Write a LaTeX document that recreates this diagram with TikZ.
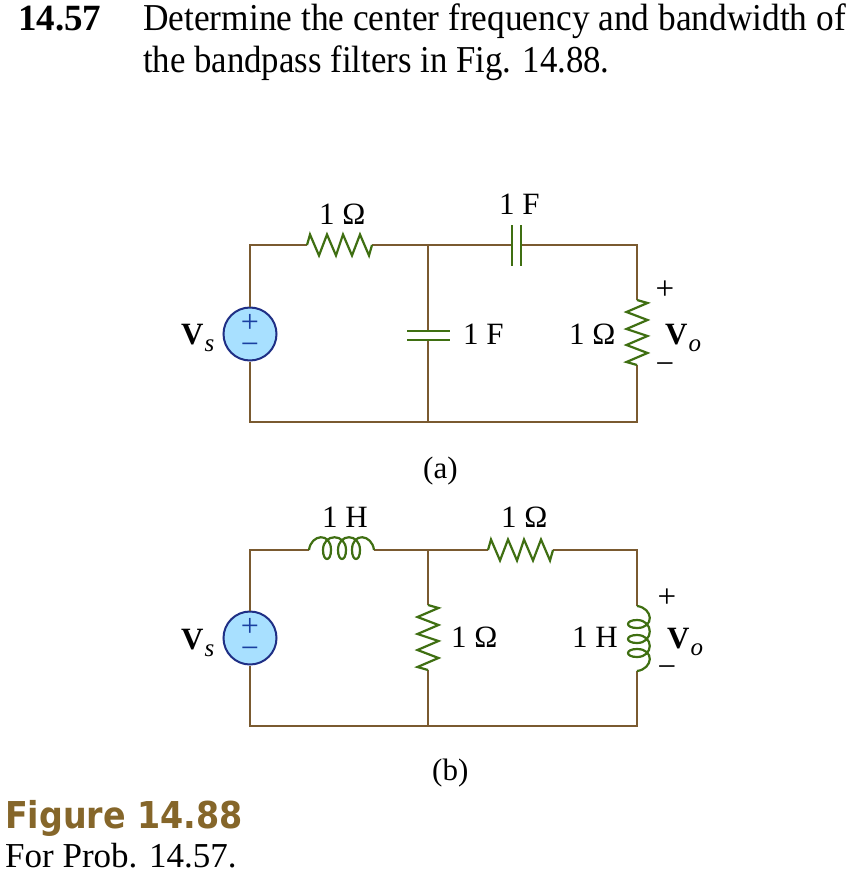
\documentclass[tikz,border=0pt]{standalone}
\usepackage{fontspec}
\setmainfont{Liberation Serif}
\newfontfamily\figfont[FakeStretch=0.9]{DejaVu Sans Bold}
\newfontfamily\bodyfont[FakeStretch=0.93]{Liberation Serif}
\newfontfamily\bodyfontb[FakeStretch=0.915]{Liberation Serif}
\definecolor{wirec}{HTML}{7A5A30}
\definecolor{partc}{HTML}{3F6F12}
\definecolor{srcfill}{HTML}{A8E0FF}
\definecolor{srcline}{HTML}{1F2F85}
\definecolor{signc}{HTML}{1A3FA0}
\definecolor{figc}{HTML}{85662A}
\newcommand{\VV}[1]{\textbf{V}\kern1pt\raisebox{-7pt}{\fontsize{25}{25}\selectfont\itshape #1}}
\tikzset{
  x=1pt,y=-1pt,
  wire/.style={draw=wirec,line width=2.2pt,line join=miter},
  part/.style={draw=partc,line width=2.2pt,line join=miter},
  plate/.style={draw=partc,line width=2.2pt},
  source/.style={circle,draw=srcline,fill=srcfill,line width=2pt,minimum size=53pt,inner sep=0pt,
    text=signc,align=center,font=\fontsize{32}{22}\selectfont},
  lab/.style={anchor=base west,inner sep=0pt,font=\fontsize{31}{31}\selectfont},
  body/.style={anchor=base west,inner sep=0pt,font=\fontsize{38}{38}\selectfont\bodyfont},
  sign/.style={inner sep=0pt,font=\fontsize{33}{33}\selectfont},
  vert/.style={rotate=-90},
  res/.pic={\draw[part] (0,0)--(3,-10.5)--(12,10.5)--(20,-10.5)--(29,10.5)--(36,-10.5)--(45,10.5)--(53,-10.5)--(62,10.5)--(65,0);},
  ind/.pic={\draw[part] (0,0) .. controls (2,-16) and (22,-18) .. (22,0) .. controls (22,12) and (14,12) .. (14,0)
     .. controls (14,-17) and (37,-17) .. (37,0) .. controls (37,12) and (29,12) .. (29,0)
     .. controls (29,-17) and (51,-17) .. (51,0) .. controls (51,12) and (43,12) .. (43,0)
     .. controls (43,-18) and (63,-16) .. (65,0);}
}
\begin{document}
\begin{tikzpicture}
\path[use as bounding box,fill=white] (0,0) rectangle (851,872);
% header
\node[body,font=\fontsize{37}{37}\selectfont\bfseries] (num) at (18,31) {14.57};
\node[body] (l1) at (143,31) {Determine the center frequency and bandwidth of};
\node[body,font=\fontsize{38}{38}\selectfont\bodyfontb] (l2) at (143,73) {the bandpass filters in Fig. 14.88.};
% circuit (a)
\coordinate (atl) at (249,245); \coordinate (atm) at (428,245); \coordinate (atr) at (637,245);
\coordinate (abl) at (249,422); \coordinate (abm) at (428,422); \coordinate (abr) at (637,422);
\coordinate (ar1a) at (307,245); \coordinate (ar1b) at (372,245);
\coordinate (ac1a) at (512,245); \coordinate (ac1b) at (521,245);
\coordinate (ac2a) at (428,331); \coordinate (ac2b) at (428,340);
\coordinate (ar2a) at (637,300); \coordinate (ar2b) at (637,365);
\node[source] (sa) at (250,334) {+\\−};
\draw[wire] (sa.north) -- (sa.north |- atl) -- (ar1a);
\draw[wire] (ar1b) -- (atm) -- (ac1a);
\draw[wire] (ac1b) -- (atr) -- (ar2a);
\draw[wire] (ar2b) -- (abr) -- (abm) -- (sa.south |- abl) -- (sa.south);
\draw[wire] (atm) -- (ac2a);
\draw[wire] (ac2b) -- (abm);
\pic at (ar1a) {res};
\pic[vert] at (ar2a) {res};
\draw[plate] (512,225) -- (512,266);
\draw[plate] (521,225) -- (521,266);
\draw[plate] (407,331) -- (450,331);
\draw[plate] (407,340) -- (450,340);
\node[lab] (a1) at (319,224) {1 Ω};
\node[lab] (a2) at (499,214) {1 F};
\node[lab] (a3) at (463,344) {1 F};
\node[lab] (a4) at (569,344) {1 Ω};
\node[lab] (avs) at (181,344) {\VV{s}};
\node[lab] (avo) at (665,344) {\VV{o}};
\node[sign] (ap) at (665,290) {+};
\node[sign] (am) at (665,369) {−};
\node[lab] (acap) at (423,478) {(a)};
% circuit (b)
\coordinate (btl) at (249,550); \coordinate (btm) at (428,550); \coordinate (btr) at (637,550);
\coordinate (bbl) at (249,726); \coordinate (bbm) at (428,726); \coordinate (bbr) at (637,726);
\coordinate (bl1a) at (309,550); \coordinate (bl1b) at (374,550);
\coordinate (br1a) at (488,550); \coordinate (br1b) at (553,550);
\coordinate (br2a) at (428,605); \coordinate (br2b) at (428,670);
\coordinate (bl2a) at (637,606); \coordinate (bl2b) at (637,671);
\node[source] (sb) at (250,638) {+\\−};
\draw[wire] (sb.north) -- (sb.north |- btl) -- (bl1a);
\draw[wire] (bl1b) -- (btm) -- (br1a);
\draw[wire] (br1b) -- (btr) -- (bl2a);
\draw[wire] (bl2b) -- (bbr) -- (bbm) -- (sb.south |- bbl) -- (sb.south);
\draw[wire] (btm) -- (br2a);
\draw[wire] (br2b) -- (bbm);
\pic at (bl1a) {ind};
\pic at (br1a) {res};
\pic[vert] at (br2a) {res};
\pic[vert] at (bl2a) {ind};
\node[lab] (b1) at (322,527) {1 H};
\node[lab] (b2) at (501,527) {1 Ω};
\node[lab] (b3) at (451,647) {1 Ω};
\node[lab] (b4) at (572,647) {1 H};
\node[lab] (bvs) at (181,649) {\VV{s}};
\node[lab] (bvo) at (667,648) {\VV{o}};
\node[sign] (bp) at (667,598) {+};
\node[sign] (bm) at (667,672) {−};
\node[lab] (bcap) at (432,780) {(b)};
% caption
\node[anchor=base west,inner sep=0pt,text=figc,font=\fontsize{37}{37}\selectfont\figfont] (fig) at (5,828) {Figure 14.88};
\node[body,font=\fontsize{35}{35}\selectfont] (for) at (5,867) {For Prob. 14.57.};
\end{tikzpicture}
\end{document}
